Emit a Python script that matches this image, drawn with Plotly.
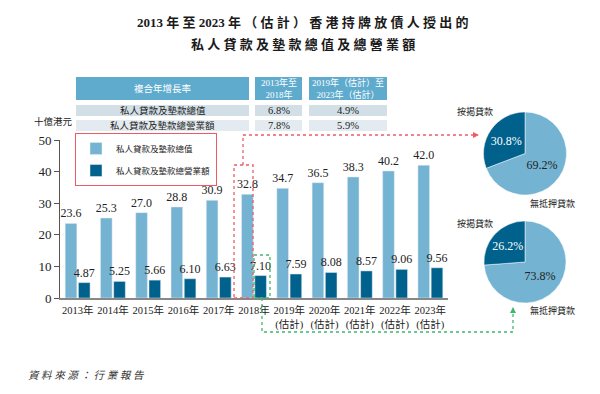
import plotly.graph_objects as go

# ---------------- data ----------------
years = ["2013年", "2014年", "2015年", "2016年", "2017年", "2018年",
         "2019年<br>(估計)", "2020年<br>(估計)", "2021年<br>(估計)",
         "2022年<br>(估計)", "2023年<br>(估計)"]
total_loans = [23.6, 25.3, 27.0, 28.8, 30.9, 32.8, 34.7, 36.5, 38.3, 40.2, 42.0]
total_revenue = [4.87, 5.25, 5.66, 6.10, 6.63, 7.10, 7.59, 8.08, 8.57, 9.06, 9.56]
series_names = ["私人貸款及墊款總值", "私人貸款及墊款總營業額"]

table_header = ["複合年增長率", "2013年至<br>2018年", "2019年（估計）至<br>2023年（估計）"]
table_row_labels = ["私人貸款及墊款總值", "私人貸款及墊款總營業額"]
cagr_2013_2018 = ["6.8%", "7.8%"]
cagr_2019_2023 = ["4.9%", "5.9%"]

pie_labels = ["按揭貸款", "無抵押貸款"]
pie_loans = [30.8, 69.2]     # share of total loans 2018
pie_revenue = [26.2, 73.8]   # share of revenue 2018

title_lines = ["2013 年 至 2023 年 （ 估 計 ） 香 港 持 牌 放 債 人 授 出 的",
               "私 人 貸 款 及 墊 款 總 值 及 總 營 業 額"]
unit_label = "十億港元"
source_text = "資 料 來 源 ： 行 業 報 告"

# ---------------- style ----------------
W, H = 600, 394
LIGHT = "#74B3D1"
DARK = "#00628C"
RED = "#EE5A66"
GREEN = "#3CB96A"
HEAD = "#5FABCD"
ROW1 = "#D2DFE7"
ROW2 = "#E3EBF0"
TXT = "#222222"
FONT = "Liberation Serif, Noto Sans CJK TC, serif"

def px(x):
    return x / W

def py(y):
    return 1 - y / H

def note(x, y, text, size, color=TXT, xanchor="center", **kw):
    return dict(x=px(x), y=py(y), xref="paper", yref="paper", showarrow=False,
                xanchor=xanchor, yanchor="middle", text=text,
                font=dict(size=size, color=color, family=FONT, **kw))

fig = go.Figure()

fig.add_trace(go.Bar(
    x=years, y=total_loans, name=series_names[0], marker_color=LIGHT,
    text=total_loans, texttemplate="%{y:.1f}", textposition="outside",
    constraintext="none",
    textfont=dict(size=12, color=TXT, family=FONT), cliponaxis=False,
    legendgroup="a"))
fig.add_trace(go.Bar(
    x=years, y=total_revenue, name=series_names[1], marker_color=DARK,
    text=total_revenue, texttemplate="%{y:.2f}", textposition="outside",
    constraintext="none",
    textfont=dict(size=12, color=TXT, family=FONT), cliponaxis=False,
    legendgroup="b"))

for vals, ytop, ybot in [(pie_loans, 112, 195), (pie_revenue, 221, 303)]:
    fig.add_trace(go.Pie(
        labels=pie_labels[::-1], values=vals[::-1], sort=False, direction="clockwise",
        rotation=0, marker=dict(colors=[LIGHT, DARK], line=dict(color="white", width=0.5)),
        texttemplate="%{percent:.1%}", textposition="inside",
        insidetextorientation="horizontal",
        textfont=dict(size=12, color=[TXT, "white"], family=FONT),
        domain=dict(x=[px(483.5), px(566.5)], y=[py(ybot), py(ytop)]),
        showlegend=False, hoverinfo="label+percent"))

shapes = []
annotations = []

# title
annotations.append(note(303, 22, "<b>" + title_lines[0] + "</b>", 13, "#1a1a1a"))
annotations.append(note(303, 45, "<b>" + title_lines[1] + "</b>", 13, "#1a1a1a"))

# table
cols = [(76, 249), (255, 302), (309, 387)]
rows = [(77, 100, HEAD), (105, 116, ROW1), (120, 131, ROW2)]
for r, (y0, y1, fill) in enumerate(rows):
    for c, (x0, x1) in enumerate(cols):
        shapes.append(dict(type="rect", xref="paper", yref="paper",
                           x0=px(x0), x1=px(x1), y0=py(y1), y1=py(y0),
                           fillcolor=fill, line=dict(width=0), layer="below"))
        if r == 0:
            txt = table_header[c]
            col = "white"
            size = 9 if c > 0 else 9.5
        else:
            txt = [table_row_labels, cagr_2013_2018, cagr_2019_2023][c][r - 1]
            col = TXT
            size = 10.5 if c > 0 else 9.5
        annotations.append(note((x0 + x1) / 2, (y0 + y1) / 2, txt, size, col))

# unit label
annotations.append(note(53, 122, unit_label, 9.5))

# pie labels
for yc in (112, 223):
    annotations.append(note(475, yc, pie_labels[0], 9))
for yc in (203, 310):
    annotations.append(note(552, yc, pie_labels[1], 9))

# source
annotations.append(note(26, 375, source_text, 10.5, "#333", xanchor="left", style="italic"))

# red dotted highlight + connector
shapes.append(dict(type="rect", xref="paper", yref="paper", x0=px(234), x1=px(253),
                   y0=py(298), y1=py(165), line=dict(color=RED, width=1.3, dash="dot")))
shapes.append(dict(type="path", xref="paper", yref="paper",
                   path=f"M {px(243)} {py(165)} L {px(243)} {py(135)} L {px(474)} {py(135)}",
                   line=dict(color=RED, width=1.3, dash="dot")))
annotations.append(dict(x=px(479), y=py(135), ax=-7, ay=0, xref="paper", yref="paper",
                        text="", showarrow=True, arrowhead=2, arrowsize=1, arrowwidth=1.2,
                        arrowcolor=RED))

# green dotted highlight + connector
shapes.append(dict(type="rect", xref="paper", yref="paper", x0=px(254), x1=px(270),
                   y0=py(298), y1=py(255), line=dict(color=GREEN, width=1.3, dash="dot")))
shapes.append(dict(type="path", xref="paper", yref="paper",
                   path=f"M {px(262)} {py(298)} L {px(262)} {py(332)} L {px(513)} {py(332)} L {px(513)} {py(313)}",
                   line=dict(color=GREEN, width=1.3, dash="dot")))
annotations.append(dict(x=px(513), y=py(307), ax=0, ay=7, xref="paper", yref="paper",
                        text="", showarrow=True, arrowhead=2, arrowsize=1, arrowwidth=1.2,
                        arrowcolor=GREEN))

fig.update_layout(
    width=W, height=H, margin=dict(l=0, r=0, t=0, b=0, autoexpand=False),
    paper_bgcolor="white", plot_bgcolor="white",
    barmode="group", bargap=0.25, bargroupgap=0.12,
    font=dict(family=FONT, color=TXT),
    xaxis=dict(domain=[px(60), px(448)], showgrid=False, ticks="",
               showline=True, linecolor="#888", linewidth=1.5, automargin=False,
               tickangle=0, ticklabelstandoff=2,
               tickfont=dict(size=10.5, color=TXT, family=FONT)),
    yaxis=dict(domain=[py(298), py(140)], range=[0, 50], dtick=10,
               showgrid=False, zeroline=False, showline=True, linecolor="#555",
               linewidth=1, ticks="outside", ticklen=5, tickcolor="#555",
               automargin=False,
               tickfont=dict(size=13, color=TXT, family=FONT)),
    legend=dict(x=px(75), y=py(133), xanchor="left", yanchor="top",
                bordercolor=RED, borderwidth=1, bgcolor="rgba(255,255,255,0)",
                font=dict(size=8.5, color=TXT, family=FONT),
                traceorder="grouped", tracegroupgap=3),
    shapes=shapes, annotations=annotations,
)

fig.write_html("out.html", config={"displayModeBar": False},
               post_script="document.body.style.margin='0px';")
